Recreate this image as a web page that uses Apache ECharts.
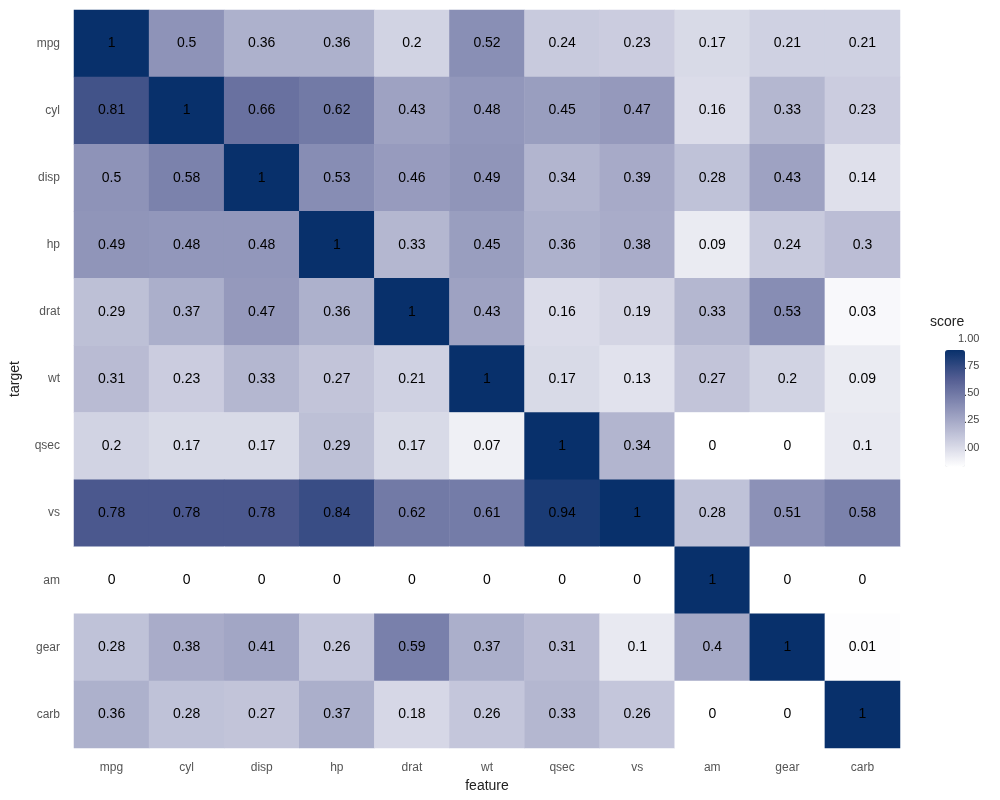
<!DOCTYPE html>
<html lang="en">
<head>
    <meta charset="UTF-8">
    <title>Heatmap</title>
    <script src="https://cdn.jsdelivr.net/npm/echarts@6/dist/echarts.min.js"></script>
    <style>body{margin:0;background:#fff}</style>
</head>
<body>
<div id="main" style="width:1000px;height:800px"></div>
<script>
    var features = ['mpg', 'cyl', 'disp', 'hp', 'drat', 'wt', 'qsec', 'vs', 'am', 'gear', 'carb'];
    var targets = ['mpg', 'cyl', 'disp', 'hp', 'drat', 'wt', 'qsec', 'vs', 'am', 'gear', 'carb'];
    // rows = target, columns = feature
    var scores = [
        [1, 0.5, 0.36, 0.36, 0.2, 0.52, 0.24, 0.23, 0.17, 0.21, 0.21],
        [0.81, 1, 0.66, 0.62, 0.43, 0.48, 0.45, 0.47, 0.16, 0.33, 0.23],
        [0.5, 0.58, 1, 0.53, 0.46, 0.49, 0.34, 0.39, 0.28, 0.43, 0.14],
        [0.49, 0.48, 0.48, 1, 0.33, 0.45, 0.36, 0.38, 0.09, 0.24, 0.3],
        [0.29, 0.37, 0.47, 0.36, 1, 0.43, 0.16, 0.19, 0.33, 0.53, 0.03],
        [0.31, 0.23, 0.33, 0.27, 0.21, 1, 0.17, 0.13, 0.27, 0.2, 0.09],
        [0.2, 0.17, 0.17, 0.29, 0.17, 0.07, 1, 0.34, 0, 0, 0.1],
        [0.78, 0.78, 0.78, 0.84, 0.62, 0.61, 0.94, 1, 0.28, 0.51, 0.58],
        [0, 0, 0, 0, 0, 0, 0, 0, 1, 0, 0],
        [0.28, 0.38, 0.41, 0.26, 0.59, 0.37, 0.31, 0.1, 0.4, 1, 0.01],
        [0.36, 0.28, 0.27, 0.37, 0.18, 0.26, 0.33, 0.26, 0, 0, 1]
    ];
    var legendTicks = ['1.00', '0.75', '0.50', '0.25', '0.00'];

    var data = [];
    scores.forEach(function (row, i) {
        row.forEach(function (v, j) { data.push([j, i, v]); });
    });

    var barTop = 335, barH = 117, barLeft = 930;
    var graphics = [{type: 'text', left: barLeft, top: barTop - 20, style: {text: 'score', fontSize: 14, fill: '#222', fontFamily: 'Liberation Sans'}}];
    legendTicks.forEach(function (t, k) {
        graphics.push({type: 'text', left: barLeft + 28, top: barTop + 4 + k * (barH - 8) / 4 - 6,
            style: {text: t, fontSize: 11, fill: '#444', fontFamily: 'Liberation Sans'}});
    });

    echarts.init(document.getElementById('main')).setOption({
        textStyle: {fontFamily: 'Liberation Sans'},
        grid: {left: 67, right: 100, top: 10, bottom: 52},
        xAxis: {
            type: 'category', data: features, name: 'feature', nameLocation: 'middle', nameGap: 28,
            nameTextStyle: {fontSize: 14, color: '#222'},
            axisLine: {show: false}, axisTick: {show: false},
            axisLabel: {color: '#555', fontSize: 12, margin: 14}
        },
        yAxis: {
            type: 'category', data: targets, inverse: true, name: 'target', nameLocation: 'middle', nameGap: 52,
            nameTextStyle: {fontSize: 14, color: '#222'},
            axisLine: {show: false}, axisTick: {show: false},
            axisLabel: {color: '#555', fontSize: 12, margin: 14}
        },
        visualMap: {
            type: 'continuous', min: 0, max: 1, calculable: false, text: null, showLabel: false,
            left: barLeft, top: barTop, itemWidth: 20, itemHeight: barH,
            inRange: {color: ['#ffffff', '#c6c8dc', '#8e93b8', '#545e93', '#08306b']}
        },
        graphic: graphics,
        series: [{
            type: 'heatmap', data: data,
            label: {show: true, color: '#000', fontSize: 14},
            itemStyle: {borderWidth: 0}
        }]
    });
</script>
</body>
</html>
